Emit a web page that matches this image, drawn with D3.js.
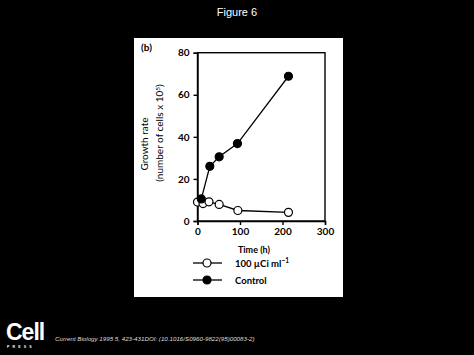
<!DOCTYPE html>
<html><head><meta charset="utf-8">
<script src="https://cdn.jsdelivr.net/npm/d3@7"></script>
<style>
html,body{margin:0;padding:0;background:#000;}
svg{display:block;}
</style></head>
<body>
<svg id="c" width="474" height="355"></svg>
<script>
// Data
const treatedTime = [0, 13, 27, 51, 95, 214];
const treatedValue = [9, 8.3, 9.1, 7.9, 5, 4.1];
const controlTime = [9, 29, 51, 94, 214];
const controlValue = [10.5, 26, 30.5, 36.8, 68.8];
const xTicks = [0, 100, 200, 300];
const yTicks = [0, 20, 40, 60, 80];
const legendLabels = ["100 µCi ml", "Control"];

const svg = d3.select("#c");
const font = "Lato, 'Open Sans', sans-serif";

// title
svg.append("text").attr("x", 237).attr("y", 16).attr("text-anchor", "middle")
  .attr("fill", "#fff").attr("font-family", "Arial, 'Liberation Sans', sans-serif")
  .attr("font-size", 11).text("Figure 6");

// white panel
svg.append("rect").attr("x", 134).attr("y", 38).attr("width", 209).attr("height", 259)
  .attr("fill", "#fff");

const x = d3.scaleLinear().domain([0, 300]).range([197.5, 325]);
const y = d3.scaleLinear().domain([0, 80]).range([221, 52.7]);

// frame
svg.append("rect").attr("x", x(0)).attr("y", y(80)).attr("width", x(300) - x(0))
  .attr("height", y(0) - y(80)).attr("fill", "none").attr("stroke", "#000").attr("stroke-width", 1.4);

const xAxis = svg.append("g").attr("transform", `translate(0,${y(0)})`)
  .call(d3.axisBottom(x).tickValues(xTicks).tickSize(4).tickPadding(3));
const yAxis = svg.append("g").attr("transform", `translate(${x(0)},0)`)
  .call(d3.axisLeft(y).tickValues(yTicks).tickSize(4).tickPadding(4));
[xAxis, yAxis].forEach(g => {
  g.select(".domain").attr("stroke", "#000").attr("stroke-width", 1.4);
  g.selectAll(".tick line").attr("stroke", "#000").attr("stroke-width", 1.4);
  g.selectAll(".tick text").attr("fill", "#000").attr("font-family", font)
    .attr("font-weight", "bold").attr("font-size", 10);
});

// (b)
svg.append("text").attr("x", 141).attr("y", 51).attr("font-family", font)
  .attr("font-weight", "bold").attr("font-size", 10).attr("fill", "#000").text("(b)");

// y title
svg.append("text").attr("transform", "translate(148,144) rotate(-90)").attr("text-anchor", "middle")
  .attr("font-family", font).attr("font-size", 10).attr("fill", "#000").text("Growth rate");
const t2 = svg.append("text").attr("transform", "translate(163,133) rotate(-90)").attr("text-anchor", "middle")
  .attr("font-family", font).attr("font-size", 10).attr("fill", "#000");
t2.append("tspan").text("(number of cells x 10");
t2.append("tspan").attr("dy", -3.5).attr("font-size", 6.5).text("5");
t2.append("tspan").attr("dy", 3.5).text(")");

// x title
svg.append("text").attr("x", 254).attr("y", 253).attr("text-anchor", "middle")
  .attr("font-family", font).attr("font-weight", "bold").attr("font-size", 9).attr("fill", "#000").text("Time (h)");

const line = d3.line().x(d => x(d[0])).y(d => y(d[1]));
const treated = treatedTime.map((t, i) => [t, treatedValue[i]]);
const control = controlTime.map((t, i) => [t, controlValue[i]]);

function series(data, fill) {
  svg.append("path").datum(data).attr("d", line).attr("fill", "none")
    .attr("stroke", "#000").attr("stroke-width", 1.3);
  svg.selectAll(null).data(data).enter().append("circle")
    .attr("cx", d => x(d[0])).attr("cy", d => y(d[1])).attr("r", 4)
    .attr("fill", fill).attr("stroke", "#000").attr("stroke-width", 1.2);
}
series(treated, "#fff");
series(control, "#000");

// legend
const legY = [263, 280];
const legFill = ["#fff", "#000"];
legY.forEach((ly, i) => {
  svg.append("line").attr("x1", 193).attr("x2", 222).attr("y1", ly).attr("y2", ly)
    .attr("stroke", "#000").attr("stroke-width", 1.3);
  svg.append("circle").attr("cx", 207).attr("cy", ly).attr("r", 4)
    .attr("fill", legFill[i]).attr("stroke", "#000").attr("stroke-width", 1.2);
  const tx = svg.append("text").attr("x", 235).attr("y", ly + 3.5).attr("font-family", font)
    .attr("font-weight", "bold").attr("font-size", 9.5).attr("fill", "#000");
  tx.append("tspan").text(legendLabels[i]);
  if (i === 0) tx.append("tspan").attr("dy", -3.5).attr("font-size", 6.5).text("−1");
});

// footer: Cell Press logo
svg.append("text").attr("x", 6).attr("y", 340).attr("fill", "#fff")
  .attr("font-family", "Arial, 'Liberation Sans', sans-serif").attr("font-weight", "bold")
  .attr("font-size", 23).attr("letter-spacing", -1).text("Cell");
svg.append("text").attr("x", 7).attr("y", 348).attr("fill", "#fff")
  .attr("font-family", "Arial, 'Liberation Sans', sans-serif").attr("font-weight", "bold")
  .attr("font-size", 3.5).attr("letter-spacing", 3.2).text("PRESS");
svg.append("text").attr("x", 55).attr("y", 341).attr("fill", "#ddd")
  .attr("font-family", "Arial, 'Liberation Sans', sans-serif").attr("font-style", "italic")
  .attr("font-size", 6.2).text("Current Biology 1995 5, 423-431DOI: (10.1016/S0960-9822(95)00083-2)");
</script>
</body></html>
